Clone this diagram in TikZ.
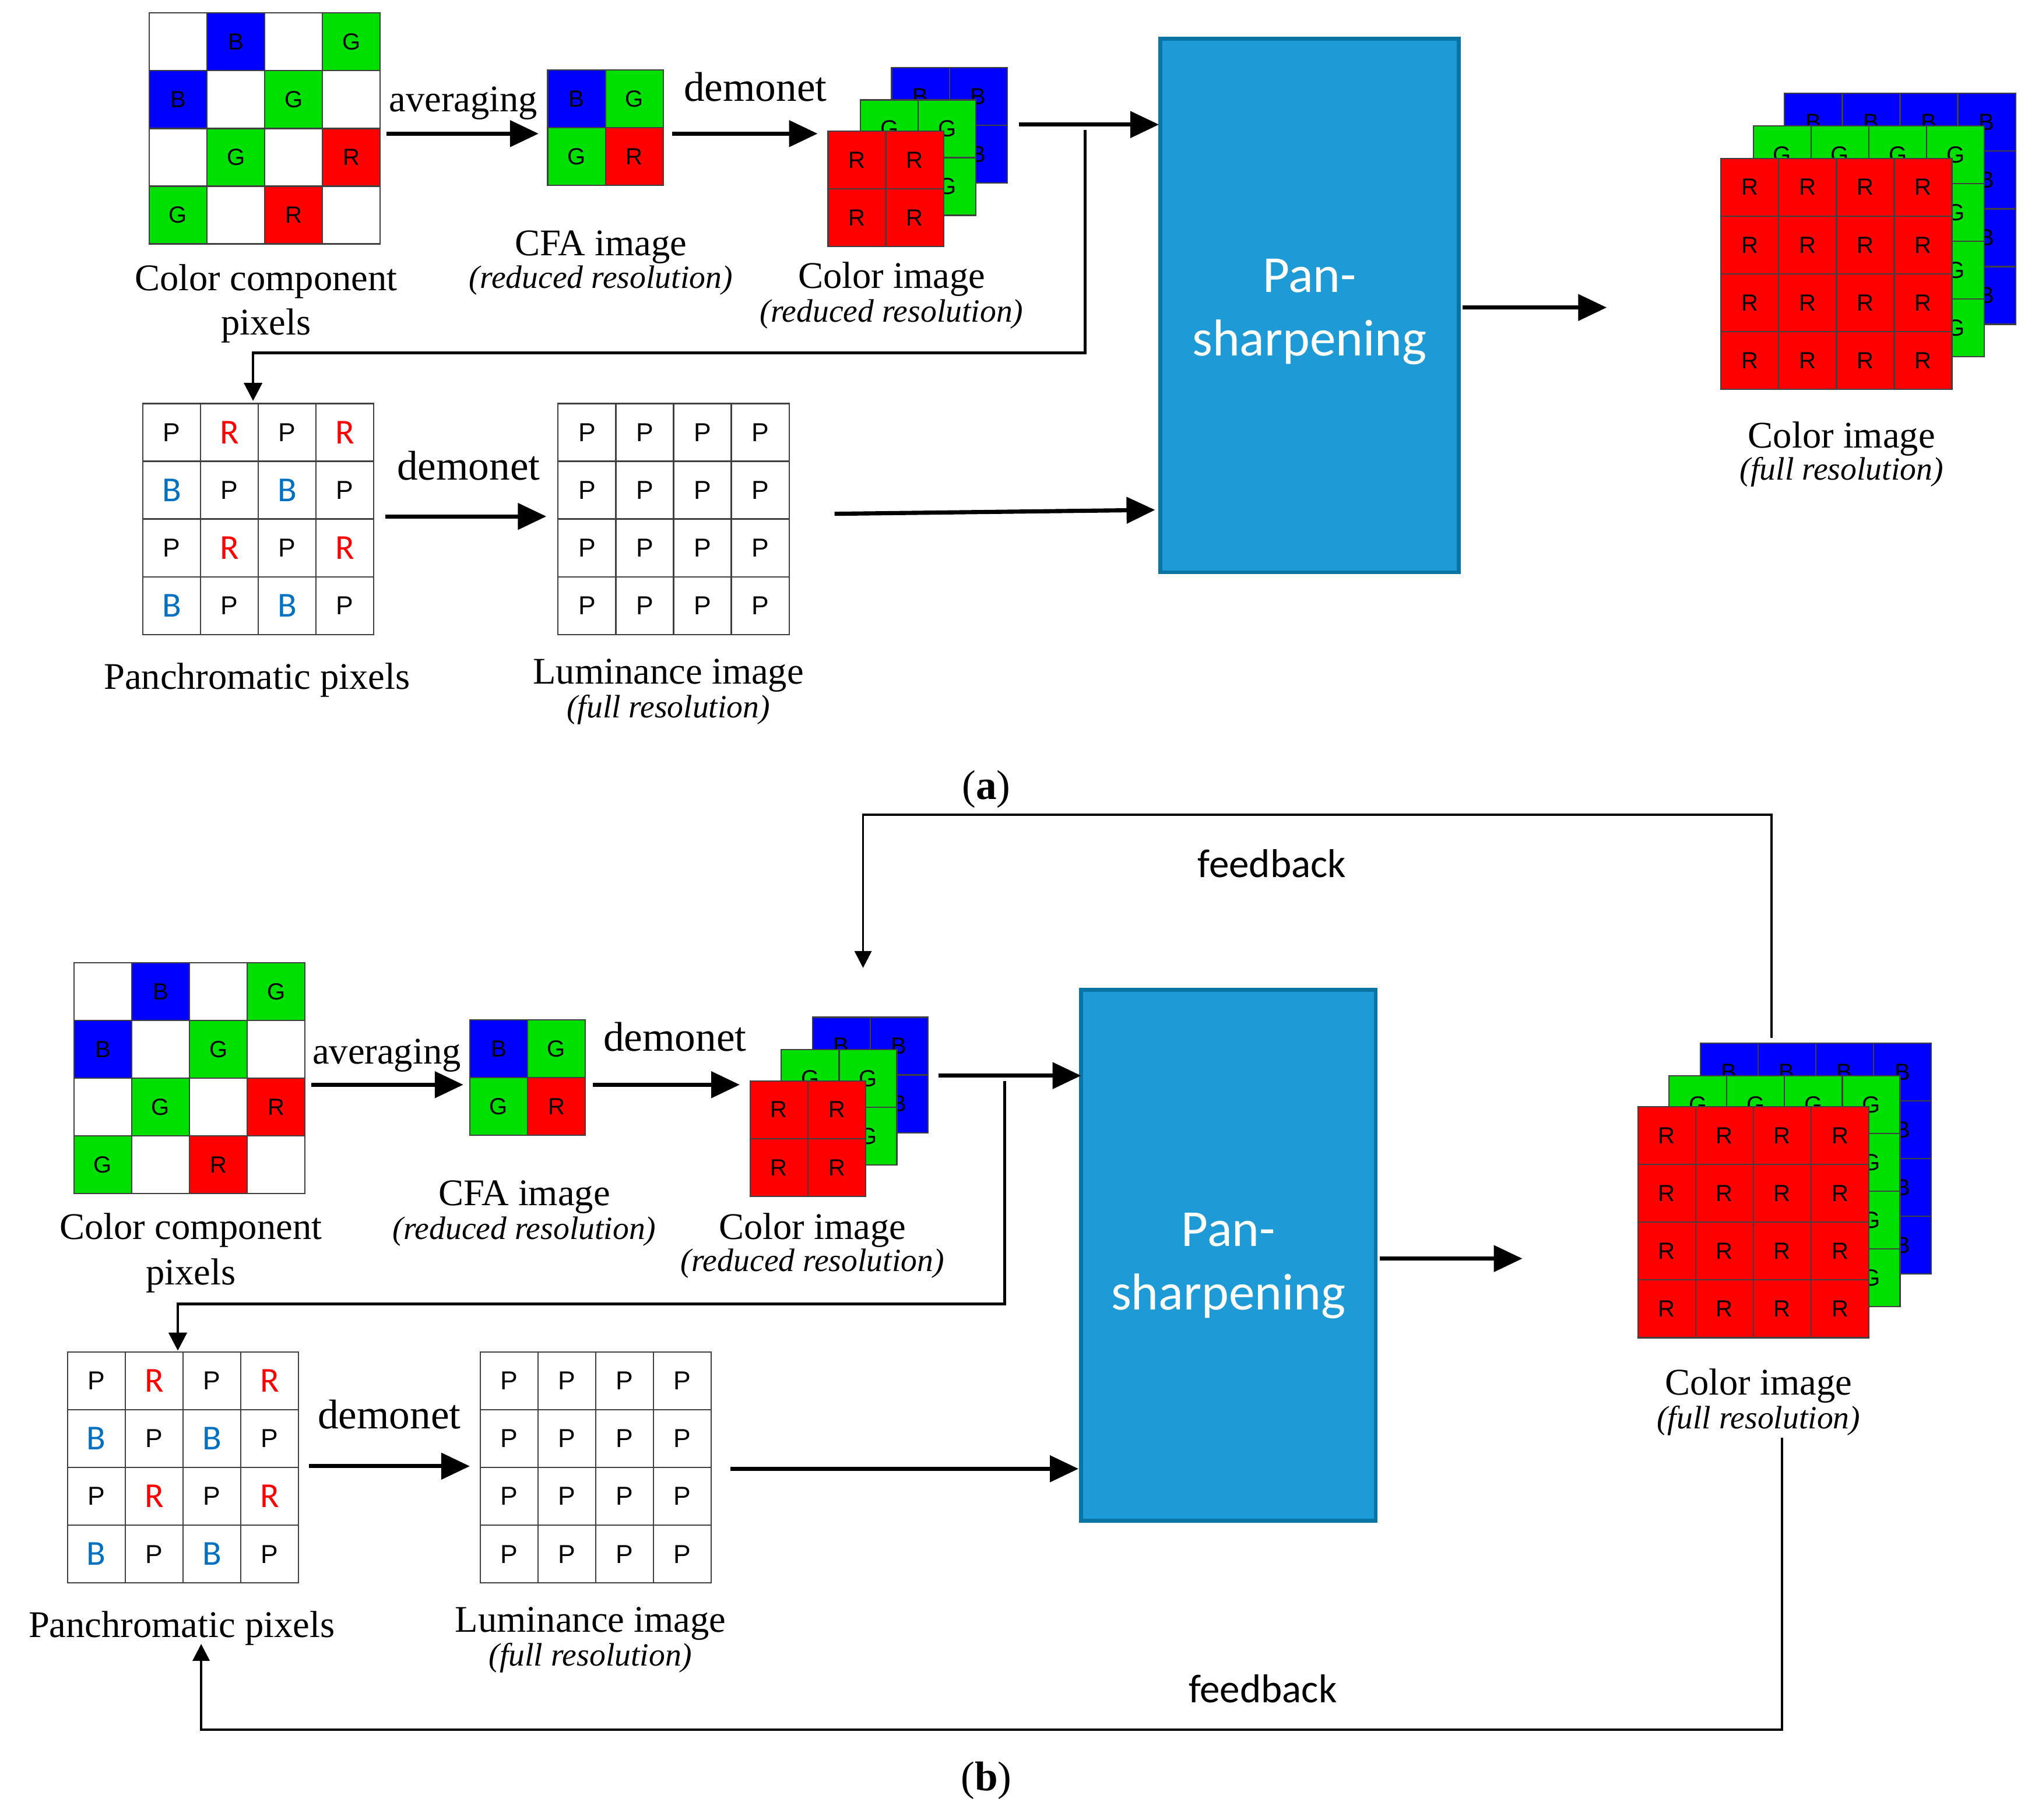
\documentclass[tikz,border=0pt]{standalone}
\usepackage{fontspec}
\setmainfont{Liberation Serif}
\newfontfamily\lsans{Liberation Sans}
\newfontfamily\calib{Carlito}
\usetikzlibrary{arrows.meta}
\definecolor{cB}{RGB}{0,0,255}
\definecolor{cG}{RGB}{0,224,0}
\definecolor{cR}{RGB}{255,0,0}
\definecolor{panB}{RGB}{0,112,192}
\definecolor{boxblue}{RGB}{30,155,215}
\definecolor{boxedge}{RGB}{10,117,165}
\def\cellsz{44.5}
\newcommand\pP{{\fontsize{20}{20}\selectfont\lsans P}}
\newcommand\pR{\textcolor{cR}{\fontsize{27}{27}\selectfont\calib R}}
\newcommand\pB{\textcolor{panB}{\fontsize{27}{27}\selectfont\calib B}}
\newcommand\cellat[4]{%
  \draw[cellline,fill=#3] ({#1},{#2}) rectangle ({#1+\cellsz},{#2+\cellsz});
  \node[celltxt] at ({#1+\cellsz/2},{#2+\cellsz/2}) {#4};}
\newcommand\pixgrid[4]{%
  \foreach [count=\i from 0] \f/\t in #4 {%
    \pgfmathtruncatemacro\cc{mod(\i,#3)}%
    \pgfmathtruncatemacro\rr{div(\i,#3)}%
    \cellat{#1+\cc*\cellsz}{#2+\rr*\cellsz}{\f}{\t}}}
\def\mosaiclist{white/{},cB/B,white/{},cG/G,cB/B,white/{},cG/G,white/{},white/{},cG/G,white/{},cR/R,cG/G,white/{},cR/R,white/{}}
\def\cfalist{cB/B,cG/G,cG/G,cR/R}
% back layers: only the letters that peek out (top row, right column)
\def\bfour{cB/B,cB/B,cB/{},cB/B}
\def\gfour{cG/G,cG/G,cG/{},cG/G}
\def\rfour{cR/R,cR/R,cR/R,cR/R}
\def\bsix{cB/B,cB/B,cB/B,cB/B,cB/{},cB/{},cB/{},cB/B,cB/{},cB/{},cB/{},cB/B,cB/{},cB/{},cB/{},cB/B}
\def\gsix{cG/G,cG/G,cG/G,cG/G,cG/{},cG/{},cG/{},cG/G,cG/{},cG/{},cG/{},cG/G,cG/{},cG/{},cG/{},cG/G}
\def\rsix{cR/R,cR/R,cR/R,cR/R,cR/R,cR/R,cR/R,cR/R,cR/R,cR/R,cR/R,cR/R,cR/R,cR/R,cR/R,cR/R}
\def\panlist{white/\pP,white/\pR,white/\pP,white/\pR,white/\pB,white/\pP,white/\pB,white/\pP,white/\pP,white/\pR,white/\pP,white/\pR,white/\pB,white/\pP,white/\pB,white/\pP}
\def\lumlist{white/\pP,white/\pP,white/\pP,white/\pP,white/\pP,white/\pP,white/\pP,white/\pP,white/\pP,white/\pP,white/\pP,white/\pP,white/\pP,white/\pP,white/\pP,white/\pP}
\begin{document}
\begin{tikzpicture}[x=1pt,y=-1pt,
  cellline/.style={draw=black!75,line width=1pt},
  celltxt/.style={font=\fontsize{18}{18}\selectfont\lsans,inner sep=0pt},
  gridbox/.style={inner sep=0pt,draw=none,minimum width=#1,minimum height=#1},
  lbl/.style={anchor=base,font=\fontsize{29}{29}\selectfont,inner sep=0pt},
  sublbl/.style={anchor=base,font=\fontsize{25}{25}\selectfont\itshape,inner sep=0pt},
  demlbl/.style={anchor=base,font=\fontsize{32}{32}\selectfont,inner sep=0pt},
  fblbl/.style={anchor=base,font=\fontsize{31}{31}\selectfont\calib,inner sep=0pt},
  panbox/.style={draw=boxedge,fill=boxblue,line width=3pt,inner sep=0pt},
  pantxt/.style={text=white,font=\fontsize{40}{49}\selectfont\calib,align=center,inner sep=0pt},
  bigarr/.style={line width=3.2pt,-{Triangle[length=22pt,width=20pt]}},
  thinarr/.style={line width=2.1pt,-{Triangle[length=14pt,width=14pt]}},
  fbarr/.style={line width=1.6pt,-{Triangle[length=13pt,width=13pt]}}]
\useasboundingbox (0,0) rectangle (1568,1402.7);

% ================= (a) =================
\node[gridbox=178] (mosA) at (204,99) {};
\pixgrid{115}{10}{4}{\mosaiclist}
\node[gridbox=89] (cfaA) at (466.5,98.5) {};
\pixgrid{422}{54}{2}{\cfalist}
\node[gridbox=89] (redA) at (682.5,145.5) {};
\pixgrid{687}{52}{2}{\bfour}
\pixgrid{663}{77}{2}{\gfour}
\pixgrid{638}{101}{2}{\rfour}
\node[gridbox=178] (fullA) at (1415,211) {};
\pixgrid{1375}{72}{4}{\bsix}
\pixgrid{1351}{97}{4}{\gsix}
\pixgrid{1326}{122}{4}{\rsix}
\node[gridbox=178] (panA) at (199,400) {};
\pixgrid{110}{311}{4}{\panlist}
\node[gridbox=178] (lumA) at (519,400) {};
\pixgrid{430}{311}{4}{\lumlist}

\node[panbox,minimum width=230pt,minimum height=411pt] (psA) at (1009,235.5) {};
\node[pantxt] (psAt) at (1009,240.5) {Pan-\\sharpening};

\node[lbl] (lmosA1) at (205,224) {Color component};
\node[lbl] (lmosA2) at (205,258) {pixels};
\node[lbl] (avgA) at (357,86) {averaging};
\node[lbl] (lcfaA1) at (463,197) {CFA image};
\node[sublbl] (lcfaA2) at (463,222) {(reduced resolution)};
\node[demlbl] (demA1) at (582,78) {demonet};
\node[lbl] (lredA1) at (687,222) {Color image};
\node[sublbl] (lredA2) at (687,248) {(reduced resolution)};
\node[lbl] (lfullA1) at (1419,345) {Color image};
\node[sublbl] (lfullA2) at (1419,370) {(full resolution)};
\node[lbl] (lpanA) at (198,531) {Panchromatic pixels};
\node[demlbl] (demA2) at (361,370) {demonet};
\node[lbl] (llumA1) at (515,527) {Luminance image};
\node[sublbl] (llumA2) at (515,553) {(full resolution)};
\node[anchor=base,font=\fontsize{32}{32}\selectfont,inner sep=0pt] (capA) at (760,616) {(\textbf{a})};

\coordinate (a1s) at (298,103); \coordinate (a1e) at (415,103);
\coordinate (a2s) at (518,103); \coordinate (a2e) at (630,103);
\coordinate (a3s) at (785,96);  \coordinate (a3e) at (893,96);
\coordinate (brA0) at (836,100); \coordinate (brA1) at (836,272);
\coordinate (brA2) at (195,272); \coordinate (brA3) at (195,309);
\coordinate (a4s) at (1127,237); \coordinate (a4e) at (1238,237);
\coordinate (a5s) at (297,398); \coordinate (a5e) at (421,398);
\coordinate (a6s) at (643,396); \coordinate (a6e) at (890,393);
\draw[bigarr] (a1s) -- (a1e);
\draw[bigarr] (a2s) -- (a2e);
\draw[bigarr] (a3s) -- (a3e);
\draw[thinarr] (brA0) -- (brA1) -- (brA2) -- (brA3);
\draw[bigarr] (a4s) -- (a4e);
\draw[bigarr] (a5s) -- (a5e);
\draw[bigarr] (a6s) -- (a6e);

% ================= (b) =================
\node[gridbox=178] (mosB) at (146,831) {};
\pixgrid{57}{742}{4}{\mosaiclist}
\node[gridbox=89] (cfaB) at (406.5,830.5) {};
\pixgrid{362}{786}{2}{\cfalist}
\node[gridbox=89] (redB) at (622.5,877.5) {};
\pixgrid{626}{784}{2}{\bfour}
\pixgrid{602}{809}{2}{\gfour}
\pixgrid{578}{833}{2}{\rfour}
\node[gridbox=178] (fullB) at (1351,942) {};
\pixgrid{1310}{804}{4}{\bsix}
\pixgrid{1286}{829}{4}{\gsix}
\pixgrid{1262}{853}{4}{\rsix}
\node[gridbox=178] (panB) at (141,1131) {};
\pixgrid{52}{1042}{4}{\panlist}
\node[gridbox=178] (lumB) at (459,1131) {};
\pixgrid{370}{1042}{4}{\lumlist}

\node[panbox,minimum width=227pt,minimum height=409pt] (psB) at (946.5,967.5) {};
\node[pantxt] (psBt) at (946.5,975.5) {Pan-\\sharpening};

\node[lbl] (lmosB1) at (147,955) {Color component};
\node[lbl] (lmosB2) at (147,990) {pixels};
\node[lbl] (avgB) at (298,820) {averaging};
\node[lbl] (lcfaB1) at (404,929) {CFA image};
\node[sublbl] (lcfaB2) at (404,955) {(reduced resolution)};
\node[demlbl] (demB1) at (520,810) {demonet};
\node[lbl] (lredB1) at (626,955) {Color image};
\node[sublbl] (lredB2) at (626,980) {(reduced resolution)};
\node[lbl] (lfullB1) at (1355,1075) {Color image};
\node[sublbl] (lfullB2) at (1355,1101) {(full resolution)};
\node[lbl] (lpanB) at (140,1262) {Panchromatic pixels};
\node[demlbl] (demB2) at (300,1101) {demonet};
\node[lbl] (llumB1) at (455,1258) {Luminance image};
\node[sublbl] (llumB2) at (455,1284) {(full resolution)};
\node[fblbl] (fbtop) at (980,676) {feedback};
\node[fblbl] (fbbot) at (973,1312) {feedback};
\node[anchor=base,font=\fontsize{32}{32}\selectfont,inner sep=0pt] (capB) at (760,1380) {(\textbf{b})};

\coordinate (b1s) at (240,836); \coordinate (b1e) at (357,836);
\coordinate (b2s) at (457,836); \coordinate (b2e) at (570,836);
\coordinate (b3s) at (723,829); \coordinate (b3e) at (833,829);
\coordinate (brB0) at (774,833); \coordinate (brB1) at (774,1005);
\coordinate (brB2) at (137,1005); \coordinate (brB3) at (137,1041);
\coordinate (b4s) at (1063,970); \coordinate (b4e) at (1173,970);
\coordinate (b5s) at (238,1130); \coordinate (b5e) at (362,1130);
\coordinate (b6s) at (563,1132); \coordinate (b6e) at (831,1132);
\coordinate (ft0) at (1365,800); \coordinate (ft1) at (1365,628);
\coordinate (ft2) at (665,628);  \coordinate (ft3) at (665,746);
\coordinate (fb0) at (1373,1108); \coordinate (fb1) at (1373,1333);
\coordinate (fb2) at (155,1333);  \coordinate (fb3) at (155,1267);
\draw[bigarr] (b1s) -- (b1e);
\draw[bigarr] (b2s) -- (b2e);
\draw[bigarr] (b3s) -- (b3e);
\draw[thinarr] (brB0) -- (brB1) -- (brB2) -- (brB3);
\draw[bigarr] (b4s) -- (b4e);
\draw[bigarr] (b5s) -- (b5e);
\draw[bigarr] (b6s) -- (b6e);
\draw[fbarr] (ft0) -- (ft1) -- (ft2) -- (ft3);
\draw[fbarr] (fb0) -- (fb1) -- (fb2) -- (fb3);
\end{tikzpicture}
\end{document}
